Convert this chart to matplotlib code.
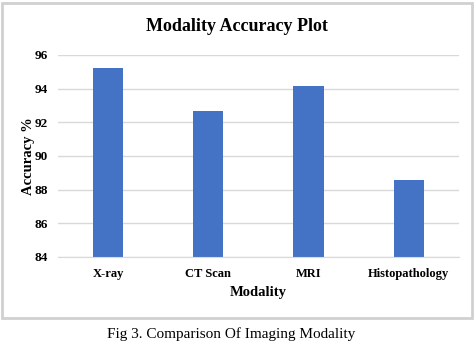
import matplotlib.pyplot as plt
from matplotlib.patches import Rectangle

modalities = ["X-ray", "CT Scan", "MRI", "Histopathology"]
accuracy = [95.25, 92.7, 94.15, 88.55]
y_ticks = [84, 86, 88, 90, 92, 94, 96]

serif = "Liberation Serif"
bar_color = "#4472C4"
grid_color = "#d9d9d9"

fig = plt.figure(figsize=(4.74, 3.48), dpi=100)

# light frame around the chart area
frame = Rectangle((0.004, 0.085), 0.992, 0.905, transform=fig.transFigure,
                  fill=False, edgecolor="#d0d0d0", linewidth=2)
fig.patches.append(frame)

ax = fig.add_axes([0.1224, 0.2615, 0.8456, 0.5805])
ax.bar(range(len(modalities)), [a - 84 for a in accuracy], bottom=84,
       width=0.3, color=bar_color, zorder=3)

ax.set_xlim(-0.5, 3.5)
ax.set_ylim(84, 96)
ax.set_yticks(y_ticks)
ax.set_yticklabels([str(t) for t in y_ticks], fontfamily=serif,
                   fontweight="bold", fontsize=9.5)
ax.set_xticks(range(len(modalities)))
ax.set_xticklabels(modalities, fontfamily=serif, fontweight="bold", fontsize=9)
ax.tick_params(length=0)
ax.tick_params(axis="y", pad=7)
ax.tick_params(axis="x", pad=8)

ax.grid(axis="y", color=grid_color, linewidth=1, zorder=0)
for side in ["top", "right", "left"]:
    ax.spines[side].set_visible(False)
ax.spines["bottom"].set_color(grid_color)
ax.spines["bottom"].set_zorder(4)

ax.set_xlabel("Modality", fontfamily=serif, fontweight="bold", fontsize=10.5,
              labelpad=4)
ax.set_ylabel("Accuracy %", fontfamily=serif, fontweight="bold", fontsize=10.5,
              labelpad=0)

fig.text(0.5, 0.925, "Modality Accuracy Plot", ha="center", va="center",
         fontfamily=serif, fontweight="bold", fontsize=13)
fig.text(0.487, 0.04, "Fig 3. Comparison Of Imaging Modality", ha="center",
         va="center", fontfamily=serif, fontsize=11)

fig.savefig("out.png", dpi=100)
